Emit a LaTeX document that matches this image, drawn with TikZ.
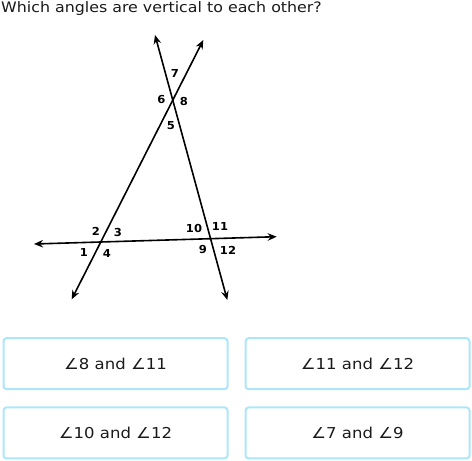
\documentclass[tikz,border=0pt]{standalone}
\usepackage{fontspec}
\setmainfont{DejaVu Sans}[FakeStretch=1.1]
\newfontfamily\numfont{DejaVu Sans}[FakeStretch=1.05]
\usetikzlibrary{arrows.meta}
\definecolor{boxline}{HTML}{ADE6FA}
\definecolor{txt}{HTML}{1A1A1A}
\begin{document}
\begin{tikzpicture}[x=1pt, y=-1pt,
		line/.style={{Stealth[length=9pt,width=7.5pt,inset=3pt]}-{Stealth[length=9pt,width=7.5pt,inset=3pt]}, line width=1.6pt},
		num/.style={font=\numfont\fontsize{11}{12}\selectfont\bfseries, inner sep=0pt},
		choice/.style={draw=boxline, line width=2pt, rounded corners=3pt, minimum width=224pt, minimum height=51pt, text=txt, font=\fontsize{15}{18}\selectfont}
		]
		\useasboundingbox (0,0) rectangle (472,461);
		
		% Question
		\node[anchor=base west, inner sep=0pt, text=txt, font=\fontsize{14.4}{17}\selectfont] (question) at (1,12.7) {Which angles are vertical to each other?};
		
		% Lines
		\coordinate (leftBot) at (71.7,299.3);
		\coordinate (leftTop) at (203.3,40);
		\coordinate (steepTop) at (155,35);
		\coordinate (steepBot) at (227.3,300);
		\coordinate (horLeft) at (34,244);
		\coordinate (horRight) at (276.7,236.7);
		\draw[line] (leftBot) -- (leftTop);
		\draw[line] (steepTop) -- (steepBot);
		\draw[line] (horLeft) -- (horRight);
		
		% Angle numbers
		\node[num] (a7) at (175,73) {7};
		\node[num] (a6) at (161.5,99) {6};
		\node[num] (a8) at (184,101) {8};
		\node[num] (a5) at (171,126) {5};
		\node[num] (a2) at (96,231) {2};
		\node[num] (a3) at (118,232) {3};
		\node[num] (a1) at (84,252) {1};
		\node[num] (a4) at (107,253) {4};
		\node[num] (a10) at (194,228) {10};
		\node[num] (a11) at (220,226) {11};
		\node[num] (a9) at (203,249) {9};
		\node[num] (a12) at (228,250) {12};
		
		% Choices
		\node[choice] (choiceA) at (115.5,363.7) {∠8 and ∠11};
		\node[choice] (choiceB) at (357.5,363.7) {∠11 and ∠12};
		\node[choice] (choiceC) at (115.5,432.9) {∠10 and ∠12};
		\node[choice] (choiceD) at (357.5,432.9) {∠7 and ∠9};
		
	\end{tikzpicture}
\end{document}
